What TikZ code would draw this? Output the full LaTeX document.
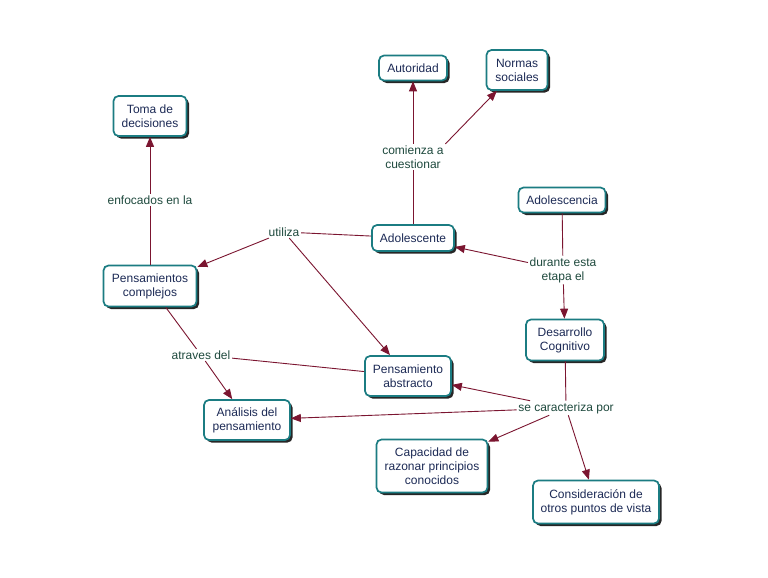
\documentclass[tikz,border=0pt]{standalone}
\usepackage{fontspec}
\setmainfont{Liberation Sans}
\usetikzlibrary{arrows.meta,shadows}
\definecolor{boxedge}{HTML}{1B7C82}
\definecolor{boxtext}{HTML}{1C2A55}
\definecolor{linktext}{HTML}{1F4A3E}
\definecolor{linkcol}{HTML}{7B1530}
\begin{document}
\begin{tikzpicture}[x=1pt,y=-1pt,
  concept/.style={draw=boxedge, line width=1.7pt, rounded corners=5pt, fill=white,
    text=boxtext, align=center, font=\fontsize{12}{14}\selectfont, inner sep=2pt,
    drop shadow={shadow xshift=2.5pt, shadow yshift=-2.5pt, fill=black, opacity=0.85}},
  linklabel/.style={text=linktext, align=center, font=\fontsize{12}{14}\selectfont, inner sep=1.5pt},
  conn/.style={draw=linkcol, line width=0.9pt},
  arr/.style={conn, -{Triangle[length=10pt,width=8pt]}}
]
\useasboundingbox[fill=white] (0,0) rectangle (768,578);

% concepts
\node[concept, minimum width=68pt, minimum height=25pt] (aut) at (413,68) {Autoridad};
\node[concept, minimum width=61pt, minimum height=40pt] (norm) at (517,70) {Normas\\sociales};
\node[concept, minimum width=73pt, minimum height=40pt] (toma) at (150,116) {Toma de\\decisiones};
\node[concept, minimum width=87pt, minimum height=25pt] (adolcia) at (562,200) {Adolescencia};
\node[concept, minimum width=82pt, minimum height=26pt] (adolte) at (413,238) {Adolescente};
\node[concept, minimum width=93pt, minimum height=41pt] (pcomp) at (150,286) {Pensamientos\\complejos};
\node[concept, minimum width=78pt, minimum height=41pt] (desa) at (565,340) {Desarrollo\\Cognitivo};
\node[concept, minimum width=86pt, minimum height=40pt] (pabs) at (408,376) {Pensamiento\\abstracto};
\node[concept, minimum width=86pt, minimum height=40pt] (anal) at (247,420) {Análisis del\\pensamiento};
\node[concept, minimum width=111pt, minimum height=53pt] (capa) at (432,466) {Capacidad de\\razonar principios\\conocidos};
\node[concept, minimum width=126pt, minimum height=43pt] (cons) at (596,502) {Consideración de\\otros puntos de vista};

% link labels
\node[linklabel] (lcom) at (413,157) {comienza a\\cuestionar};
\node[linklabel] (lenf) at (150,200) {enfocados en la};
\node[linklabel] (luti) at (284,232) {utiliza};
\node[linklabel] (ldur) at (563,270) {durante esta\\etapa el};
\node[linklabel] (latr) at (201,355) {atraves del};
\node[linklabel] (lcar) at (566,408) {se caracteriza por};

% connections
\draw[conn] (adolte) -- (lcom);
\draw[arr] (lcom) -- (aut);
\draw[arr] (lcom.north east) -- (norm);

\draw[conn] (pcomp) -- (lenf);
\draw[arr] (lenf) -- (toma);

\draw[conn] (adolte) -- (luti);
\draw[arr] (luti) -- (pcomp);
\draw[arr] (luti) -- (pabs);

\draw[conn] (adolcia) -- (ldur);
\draw[arr] (ldur) -- (adolte);
\draw[arr] (ldur) -- (desa);

\draw[conn] (pcomp) -- (latr);
\draw[conn] (pabs) -- (latr);
\draw[arr] (latr) -- (anal);

\draw[conn] (desa) -- (lcar);
\draw[arr] (lcar) -- (pabs);
\draw[arr] (lcar) -- (anal);
\draw[arr] (lcar) -- (capa);
\draw[arr] (lcar) -- (cons);
\end{tikzpicture}
\end{document}
